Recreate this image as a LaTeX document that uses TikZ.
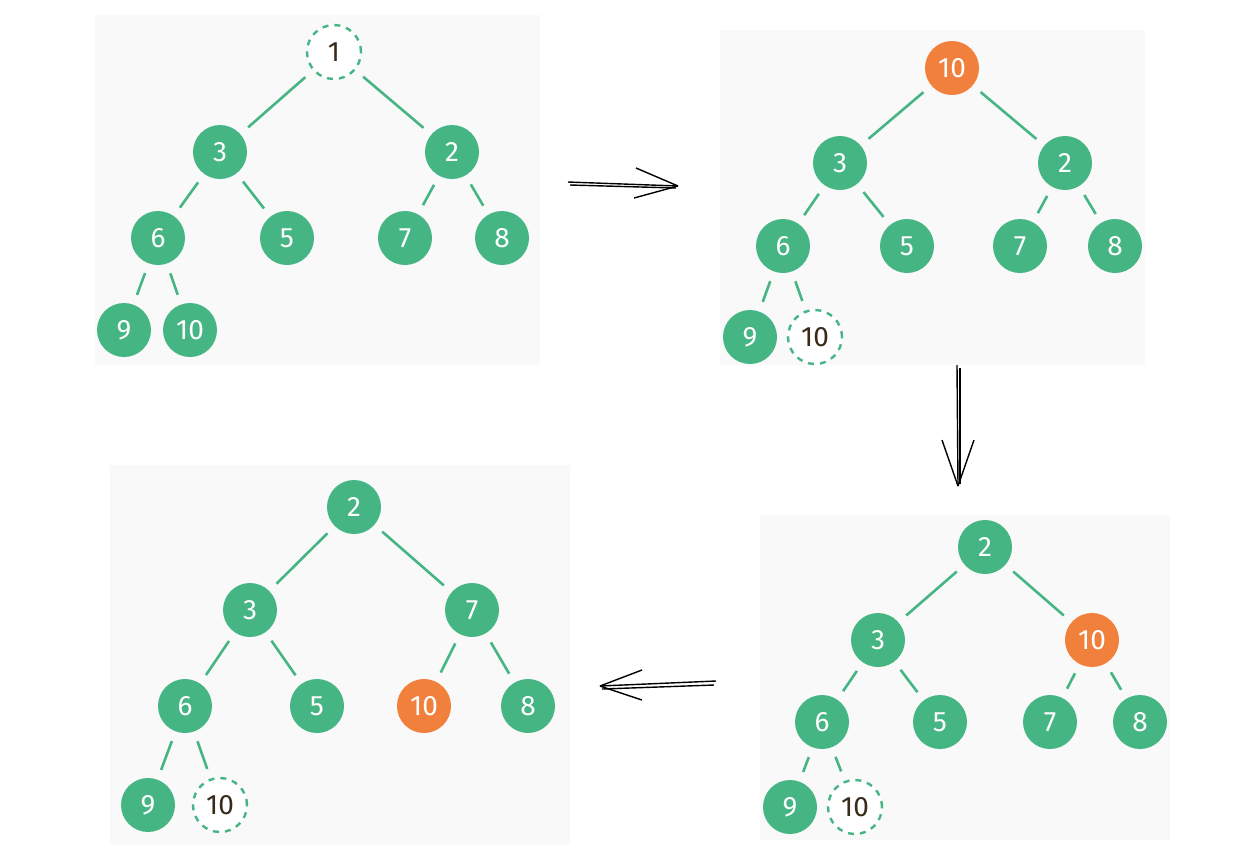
\documentclass[tikz,border=0pt]{standalone}
\usepackage{fontspec}
\setmainfont{Fira Sans}
\begin{document}
\begin{tikzpicture}[x=0.5pt,y=-0.5pt,
  g/.style={circle,fill=grn,text=white,minimum size=27pt,inner sep=0pt,font=\fontsize{14}{14}\selectfont},
  o/.style={g,fill=org},
  d/.style={circle,draw=grn,dashed,line width=1.2pt,fill=white,text=brn,minimum size=27pt,inner sep=0pt,font=\fontsize{14}{14}\selectfont},
  e/.style={draw=grn,line width=1.3pt,shorten >=5pt,shorten <=5pt},
  bg/.style={fill=black!2.5,draw=none},
  ar/.style={draw=black,line width=0.7pt}]
\definecolor{grn}{HTML}{45B583}
\definecolor{org}{HTML}{F0803C}
\definecolor{brn}{HTML}{3A2A1A}
\useasboundingbox (0,0) rectangle (1237,864);
\fill[white] (0,0) rectangle (1237,864);
\path[bg] (95,15) rectangle (540,365);
\path[bg] (720,30) rectangle (1145,365);
\path[bg] (760,515) rectangle (1170,840);
\path[bg] (110,465) rectangle (570,845);
% panel 1
\node[d] (a1) at (334,52) {1};
\node[g] (a3) at (220,152) {3};
\node[g] (a2) at (452,152) {2};
\node[g] (a6) at (158,238) {6};
\node[g] (a5) at (287,238) {5};
\node[g] (a7) at (405,238) {7};
\node[g] (a8) at (502,238) {8};
\node[g] (a9) at (124,330) {9};
\node[g] (a10) at (190,330) {10};
\foreach \p/\c in {a1/a3,a1/a2,a3/a6,a3/a5,a2/a7,a2/a8,a6/a9,a6/a10} \draw[e] (\p) -- (\c);
% panel 2
\node[o] (b1) at (952,68) {10};
\node[g] (b3) at (840,163) {3};
\node[g] (b2) at (1065,163) {2};
\node[g] (b6) at (783,246) {6};
\node[g] (b5) at (907,246) {5};
\node[g] (b7) at (1020,246) {7};
\node[g] (b8) at (1115,246) {8};
\node[g] (b9) at (750,337) {9};
\node[d] (b10) at (815,337) {10};
\foreach \p/\c in {b1/b3,b1/b2,b3/b6,b3/b5,b2/b7,b2/b8,b6/b9,b6/b10} \draw[e] (\p) -- (\c);
% panel 3
\node[g] (c1) at (985,547) {2};
\node[g] (c3) at (878,640) {3};
\node[o] (c2) at (1092,640) {10};
\node[g] (c6) at (822,722) {6};
\node[g] (c5) at (940,722) {5};
\node[g] (c7) at (1050,722) {7};
\node[g] (c8) at (1140,722) {8};
\node[g] (c9) at (790,807) {9};
\node[d] (c10) at (855,807) {10};
\foreach \p/\c in {c1/c3,c1/c2,c3/c6,c3/c5,c2/c7,c2/c8,c6/c9,c6/c10} \draw[e] (\p) -- (\c);
% panel 4
\begin{scope}[every node/.append style={minimum size=30pt}]
\node[g] (d1) at (354,507) {2};
\node[g] (d3) at (250,610) {3};
\node[g] (d2) at (472,610) {7};
\node[g] (d6) at (185,706) {6};
\node[g] (d5) at (317,706) {5};
\node[o] (d7) at (424,706) {10};
\node[g] (d8) at (528,706) {8};
\node[g] (d9) at (148,805) {9};
\node[d] (d10) at (220,805) {10};
\end{scope}
\foreach \p/\c in {d1/d3,d1/d2,d3/d6,d3/d5,d2/d7,d2/d8,d6/d9,d6/d10} \draw[e] (\p) -- (\c);
% arrows
\coordinate (r0) at (568,182); \coordinate (r1) at (678,186);
\draw[ar] (r0) -- (r1); \draw[ar] (570,185) -- (676,188);
\draw[ar] (r1) -- (636,168); \draw[ar] (r1) -- (634,198);
\coordinate (v0) at (957,365); \coordinate (v1) at (958,486);
\draw[ar] (v0) -- (v1); \draw[ar] (960,368) -- (960,484);
\draw[ar] (v1) -- (942,440); \draw[ar] (v1) -- (974,440);
\coordinate (l0) at (716,681); \coordinate (l1) at (600,686);
\draw[ar] (l0) -- (l1); \draw[ar] (714,685) -- (602,689);
\draw[ar] (l1) -- (642,670); \draw[ar] (l1) -- (642,700);
\end{tikzpicture}
\end{document}
